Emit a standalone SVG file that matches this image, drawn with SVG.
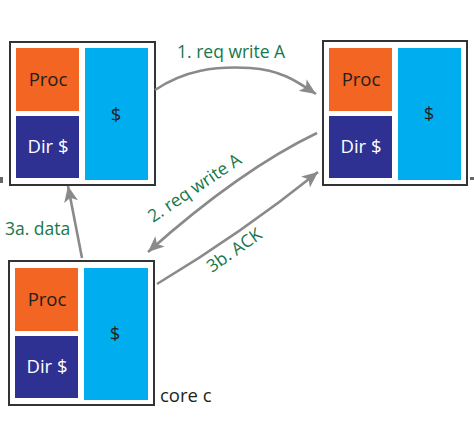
<svg xmlns="http://www.w3.org/2000/svg" width="474" height="439" viewBox="0 0 474 439">
<defs>
<style>
.frame{fill:#fff;stroke:#333;stroke-width:2}
.proc{fill:#f26522}
.dir{fill:#2e3192}
.cache{fill:#00aeef}
.t{font-family:"Open Sans","Noto Sans",sans-serif;font-size:18.5px}
.lbl{font-family:"Open Sans","Noto Sans",sans-serif;font-size:17.5px;fill:#17774a}
.conn{fill:none;stroke:#8a8a8a;stroke-width:2.6}
</style>
<marker id="ah" markerUnits="userSpaceOnUse" markerWidth="18" markerHeight="14" refX="16" refY="7" orient="auto">
<path d="M0,0 L16,7 L0,14 L4,7 Z" fill="#8a8a8a"/>
</marker>
</defs>
<rect x="0" y="177" width="3" height="6" fill="#666"/>
<rect x="470" y="177" width="4" height="3" fill="#666"/>
<g id="core-a">
<rect class="frame" x="10" y="42" width="145" height="143"/>
<rect class="proc" x="16" y="48" width="63" height="63"/>
<rect class="dir" x="16" y="116" width="63" height="62"/>
<rect class="cache" x="85" y="48" width="63" height="132"/>
<text class="t" x="48" y="86" text-anchor="middle" fill="#231f20">Proc</text>
<text class="t" x="48" y="153" text-anchor="middle" fill="#fff">Dir $</text>
<text class="t" x="116" y="121" text-anchor="middle" fill="#231f20">$</text>
</g>
<g id="core-b">
<rect class="frame" x="323" y="41" width="144" height="144"/>
<rect class="proc" x="329" y="48" width="63" height="63"/>
<rect class="dir" x="329" y="116" width="63" height="62"/>
<rect class="cache" x="398" y="48" width="63" height="132"/>
<text class="t" x="361" y="86" text-anchor="middle" fill="#231f20">Proc</text>
<text class="t" x="361" y="153" text-anchor="middle" fill="#fff">Dir $</text>
<text class="t" x="429" y="120" text-anchor="middle" fill="#231f20">$</text>
</g>
<g id="core-c">
<rect class="frame" x="9" y="261" width="145" height="144"/>
<rect class="proc" x="15" y="268" width="63" height="63"/>
<rect class="dir" x="15" y="336" width="63" height="62"/>
<rect class="cache" x="84" y="268" width="64" height="132"/>
<text class="t" x="47" y="306" text-anchor="middle" fill="#231f20">Proc</text>
<text class="t" x="47" y="373" text-anchor="middle" fill="#fff">Dir $</text>
<text class="t" x="115" y="340" text-anchor="middle" fill="#231f20">$</text>
<text class="t" x="160" y="402" fill="#231f20" font-size="17">core c</text>
</g>
<g id="connectors">
<path class="conn" marker-end="url(#ah)" d="M155,90 C185,70 215,66 250,68 C280,70 295,80 316,94"/>
<path class="conn" marker-end="url(#ah)" d="M317,133 Q240,170 148,252"/>
<path class="conn" marker-end="url(#ah)" d="M157,284 Q242,233 318,172"/>
<path class="conn" marker-end="url(#ah)" d="M82,258 L68,186"/>
</g>
<g id="labels">
<text class="lbl" x="177" y="58">1. req write A</text>
<text class="lbl" transform="translate(153,223) rotate(-34)">2. req write A</text>
<text class="lbl" x="5" y="235">3a. data</text>
<text class="lbl" transform="translate(212,273) rotate(-35)">3b. ACK</text>
</g>
</svg>
